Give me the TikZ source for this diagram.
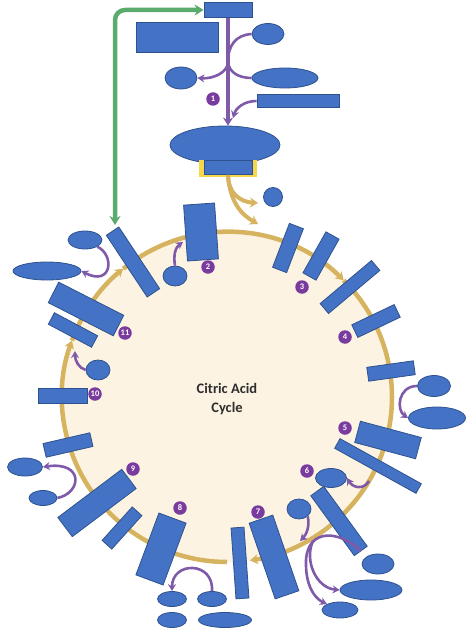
\documentclass[tikz,border=0pt]{standalone}
\usepackage{fontspec}
\setmainfont{Carlito}
\usetikzlibrary{shapes.geometric,arrows.meta}
\definecolor{bfill}{HTML}{4472C4}
\definecolor{bdraw}{HTML}{2F528F}
\definecolor{purp}{HTML}{7E5AA8}
\definecolor{numc}{HTML}{7A3B9E}
\definecolor{gold}{HTML}{D6B35E}
\definecolor{cream}{HTML}{FDF3E2}
\definecolor{grn}{HTML}{5BAA6E}
\definecolor{yel}{HTML}{F5D94A}
\definecolor{txt}{HTML}{2E2E2E}
\begin{document}
\begin{tikzpicture}[x=1pt,y=-1pt,
  bx/.style={draw=bdraw, fill=bfill, line width=0.8pt, inner sep=0pt, rectangle},
  rb/.style n args={3}{bx, minimum width=#1pt, minimum height=#2pt, rotate=#3},
  el/.style={draw=bdraw, fill=bfill, line width=0.8pt, inner sep=0pt, ellipse},
  eb/.style 2 args={el, minimum width=#1pt, minimum height=#2pt},
  num/.style={circle, fill=numc, text=white, inner sep=0pt, minimum size=13.5pt, font=\bfseries\fontsize{8.5}{8.5}\selectfont},
  pl/.style={draw=purp, line width=2.6pt},
  pa/.style={pl, -{Stealth[length=7pt,width=8pt]}},
  gring/.style={draw=gold, line width=4.5pt, -{Stealth[length=8pt,width=10pt]}},
  ga/.style={draw=gold, line width=4pt, -{Stealth[length=8pt,width=10pt]}},
  gl/.style={draw=grn, line width=4.5pt, rounded corners=10pt, {Stealth[length=9pt,width=11pt]}-{Stealth[length=9pt,width=11pt]}}
]
\useasboundingbox (0,0) rectangle (474,636);

% cycle
\node[circle, fill=cream, minimum size=330pt, inner sep=0pt] (cyc) at (227,397) {};
\node[align=center, text=txt, font=\bfseries\fontsize{14.5}{19}\selectfont] (lbl) at (227,399) {Citric Acid\\Cycle};
\draw[gring] (cyc.center) ++(90:165) arc[start angle=90, end angle=200, radius=165];
\draw[gring] (cyc.center) ++(200:165) arc[start angle=200, end angle=231, radius=165];
\draw[gring] (cyc.center) ++(231:165) arc[start angle=231, end angle=315, radius=165];
\draw[gring] (cyc.center) ++(315:165) arc[start angle=315, end angle=442, radius=165];

% top part
\node[rb={48}{15}{0}] (tb) at (228,10) {};
\node[rb={82}{30}{0}] (tl) at (177,37) {};
\node[eb={32}{21}] (e1) at (268,34) {};
\node[eb={32}{22}] (e2) at (181,78) {};
\node[eb={66}{20}] (e3) at (285,78) {};
\node[rb={82}{13}{0}] (rr) at (298,101) {};
\node[eb={110}{38}] (big) at (225,145) {};
\node[bx, draw=yel, fill=yel, minimum width=57pt, minimum height=16pt] (yb) at (227.5,168.5) {};
\node[rb={48}{14}{0}] (cb) at (228,167.5) {};
\node[eb={19}{19}] (sc) at (273,197) {};
\node[num] (n1) at (213,99) {1};

\coordinate (m1) at (228,62);
\coordinate (a1) at (233,118);
\draw[pl, line width=4pt, -{Stealth[length=8pt,width=10pt]}] (tb.south) -- (tb.south |- big.north);
\draw[pl] (e1.west) .. controls (236,35) and (228,45) .. (m1);
\draw[pl] (e3.west) .. controls (238,78) and (229,72) .. (m1);
\draw[pa] (m1) .. controls (228,72) and (214,79) .. (e2.east);
\draw[pa] (rr.west) .. controls (244,101) and (236,108) .. (a1);

\coordinate (ga1) at (258,203);
\coordinate (ga2) at (258,224);
\draw[ga] (cb.south) .. controls (228,193) and (240,202) .. (ga1);
\draw[ga] (cb.south) .. controls (230,205) and (244,216) .. (ga2);

% green feedback arrow
\coordinate (gend) at (115,225);
\draw[gl] (tb.west) -| (gend);

% upper left
\node[rb={31}{56}{4}] (r2) at (201,232) {};
\node[eb={24}{20}] (c2) at (175,276) {};
\node[num] (n2) at (208,267) {2};
\node[rb={74}{15}{-56.5}] (ru) at (133,262) {};
\node[eb={34}{18}] (ea) at (85,240) {};
\node[eb={68}{18}] (ebb) at (47,271) {};
\node[rb={73}{23}{-27}] (r11a) at (86,309) {};
\node[rb={49}{13}{-28}] (r11b) at (73,330) {};
\node[num] (n11) at (125,333) {11};
\node[eb={24}{20}] (c11) at (98,370) {};
\node[rb={49}{15}{0}] (r10) at (62.5,395.5) {};
\node[num] (n10) at (95,394) {10};

\coordinate (a2) at (183,242);
\coordinate (a3) at (75,351);
\draw[pa] (ea.south east) .. controls (115,255) and (112,287) .. (ebb.east);
\draw[pa] (c2.north) .. controls (173,254) and (176,247) .. (a2);
\draw[pa] (c11.west) .. controls (79,368) and (75,361) .. (a3);

% upper right
\node[rb={47}{15}{69}] (ra) at (288,248) {};
\node[rb={47}{15}{60.7}] (rbb) at (321,256) {};
\node[num] (n3) at (302,287) {3};
\node[rb={67}{13}{40}] (rc) at (350,287) {};
\node[rb={47}{14}{25.5}] (rd) at (376,321) {};
\node[num] (n4) at (345,337) {4};
\node[rb={47}{14}{8}] (re) at (391,371) {};
\node[eb={33}{21}] (ef) at (434,386) {};
\node[eb={57}{22}] (eg) at (437,418) {};
\draw[pa] (ef.west) .. controls (398,386) and (396,410) .. (eg.west);
\node[num] (n5) at (345,428) {5};
\node[rb={63}{22}{-15}] (rh) at (388,440) {};
\node[rb={93}{11}{-29}] (ri) at (378,466) {};

% lower right
\node[num] (n6) at (307,471) {6};
\node[eb={31}{19}] (ej) at (331,478) {};
\coordinate (j0) at (369,481);
\draw[pa] (j0) .. controls (364,490) and (353,488) .. (ej.east);
\node[rb={74}{16}{-54}] (rk) at (339,521) {};
\node[eb={24}{20}] (el) at (299,509) {};
\coordinate (a4) at (300,541);
\draw[pa] (el.south east) .. controls (310,527) and (306,535) .. (a4);
\node[eb={32}{20}] (em) at (378,564) {};
\node[eb={62}{20}] (en) at (371,590) {};
\node[eb={36}{16}] (eo) at (340,610) {};
\coordinate (br) at (313,541);
\draw[pa] (rk.east) .. controls (340,530) and (308,528) .. (306,560) .. controls (305,590) and (318,600) .. (eo.north west);
\draw[pa] (br) .. controls (304,560) and (316,588) .. (en.west);
\node[num] (n7) at (258,512) {7};
\node[rb={80}{25}{-71}] (rp) at (274,557) {};
\node[rb={71}{13}{-86}] (rq) at (240,563) {};

% lower left
\node[rb={48}{14}{13}] (rr9) at (68,445) {};
\node[eb={35}{18}] (es) at (25,467) {};
\node[eb={28}{15}] (et) at (43,498) {};
\draw[pa] (et.east) .. controls (82,493) and (84,461) .. (es.east);
\node[num] (n9) at (133,469) {9};
\node[rb={80}{24}{37}] (ru9) at (97,503) {};
\node[rb={45}{13}{48}] (rv) at (122,528) {};
\node[num] (n8) at (180,508) {8};
\node[rb={66}{29}{69.6}] (rw) at (161,549) {};
\node[eb={29}{15}] (b1) at (172,599) {};
\node[eb={29}{15}] (b2) at (212,599) {};
\node[eb={29}{15}] (b3) at (172,620) {};
\node[eb={53}{15}] (b4) at (225,620) {};
\draw[pa] (b2.north) .. controls (214,561) and (172,561) .. (b1.north);
\end{tikzpicture}
\end{document}
